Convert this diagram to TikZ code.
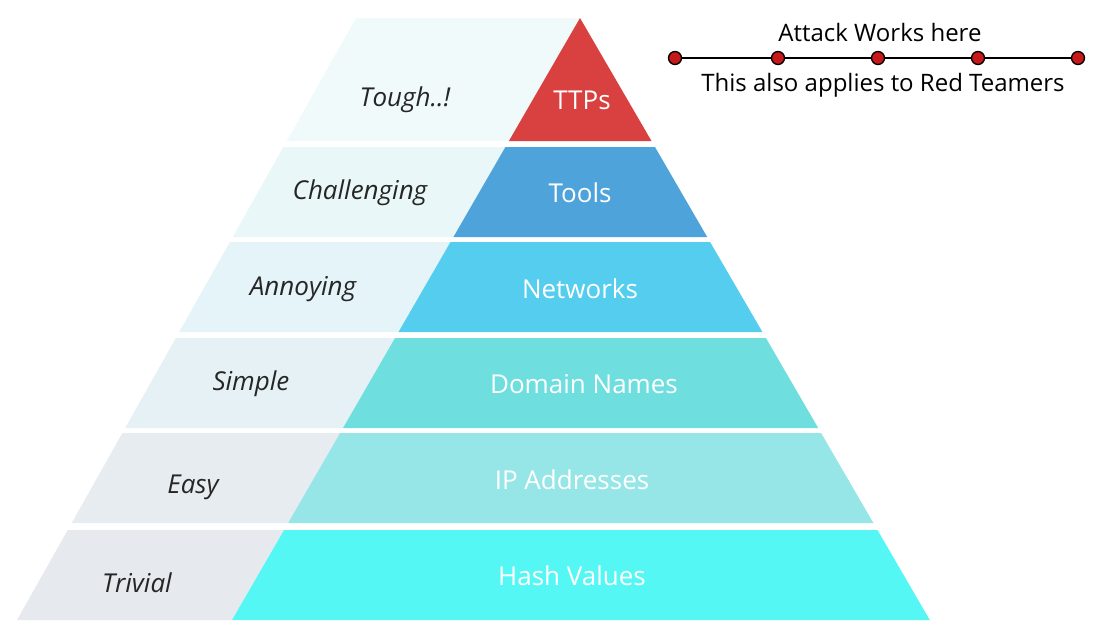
\documentclass[tikz,border=0pt]{standalone}
\usepackage{fontspec}
\setmainfont{Open Sans}
\begin{document}
\begin{tikzpicture}[x=1pt,y=-1pt,
 lab/.style={font=\fontsize{26}{30}\selectfont,text=white},
 dif/.style={font=\fontsize{26}{30}\selectfont\itshape,text=black!85},
 leg/.style={font=\fontsize{24}{28}\selectfont,text=black},
 dot/.style={circle,draw=black,line width=1.3pt,fill=red!75!black!90,minimum size=13pt,inner sep=0pt}]
\definecolor{cA}{HTML}{D94040}\definecolor{cB}{HTML}{4FA3DB}\definecolor{cC}{HTML}{55CDEE}
\definecolor{cD}{HTML}{6EDEDE}\definecolor{cE}{HTML}{96E6E8}\definecolor{cF}{HTML}{55F7F5}
\definecolor{lA}{HTML}{F0FAFA}\definecolor{lB}{HTML}{EAF7F8}\definecolor{lC}{HTML}{E5F4F8}
\definecolor{lD}{HTML}{E6F1F5}\definecolor{lE}{HTML}{E6ECF0}\definecolor{lF}{HTML}{E6EAEE}
\useasboundingbox (0,0) rectangle (1104,638);
% left ribbons
\fill[lA] (356,18)--(580,18)--(508.9,141)--(286.7,141)--cycle;
\fill[lB] (283.4,147)--(505.4,147)--(453.4,237)--(232.7,237)--cycle;
\fill[lC] (229.9,242)--(450.5,242)--(398.5,332)--(179.2,332)--cycle;
\fill[lD] (175.8,338)--(395.0,338)--(343.0,428)--(125.2,428)--cycle;
\fill[lE] (122.4,433)--(340.1,433)--(288.1,523)--(71.7,523)--cycle;
\fill[lF] (67.7,530)--(284.1,530)--(232,620)--(17,620)--cycle;
% pyramid
\fill[cA] (580,18)--(651.5,141)--(508.9,141)--cycle;
\fill[cB] (505.4,147)--(655,147)--(707.2,237)--(453.4,237)--cycle;
\fill[cC] (450.5,242)--(710.1,242)--(762.4,332)--(398.5,332)--cycle;
\fill[cD] (395.0,338)--(765.9,338)--(818.2,428)--(343.0,428)--cycle;
\fill[cE] (340.1,433)--(821.1,433)--(873.4,523)--(288.1,523)--cycle;
\fill[cF] (284.1,530)--(877.5,530)--(929.8,620)--(232,620)--cycle;
\node[lab] (ttp) at (582,100) {TTPs};
\node[lab] (tools) at (580,193) {Tools};
\node[lab] (net) at (580,289) {Networks};
\node[lab] (dom) at (584,384) {Domain Names};
\node[lab] (ip) at (572,480) {IP Addresses};
\node[lab] (hash) at (572,576) {Hash Values};
\node[dif] (d1) at (405,100) {Tough..!};
\node[dif] (d2) at (360,193) {Challenging};
\node[dif] (d3) at (303,289) {Annoying};
\node[dif] (d4) at (251,384) {Simple};
\node[dif] (d5) at (193,487) {Easy};
\node[dif] (d6) at (137,583) {Trivial};
% legend
\draw[line width=1.5pt] (675,58)--(1078,58);
\foreach \x/\n in {675/p1,778/p2,878/p3,978/p4,1078/p5}{\node[dot] (\n) at (\x,58) {};}
\node[leg] (t1) at (880,32) {Attack Works here};
\node[leg] (t2) at (883,85) {This also applies to Red Teamers};
\end{tikzpicture}
\end{document}
